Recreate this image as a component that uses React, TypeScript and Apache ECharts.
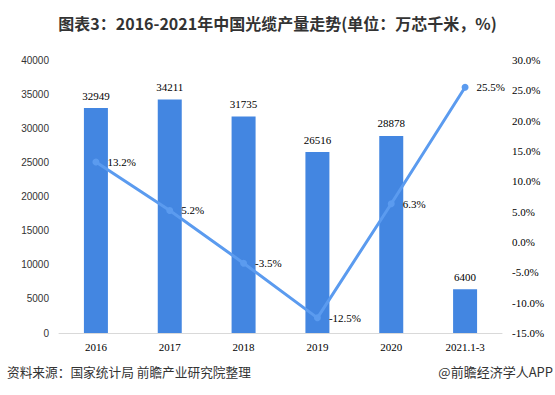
import React, { useEffect, useRef } from "react";
import * as echarts from "echarts";

const categories = ["2016", "2017", "2018", "2019", "2020", "2021.1-3"];
const production = [32949, 34211, 31735, 26516, 28878, 6400];
const growth = [13.2, 5.2, -3.5, -12.5, 6.3, 25.5];

export default function App() {
  const ref = useRef<HTMLDivElement>(null);
  useEffect(() => {
    if (!ref.current) return;
    const chart = echarts.init(ref.current, null, { renderer: "svg" });
    const serif = "Liberation Serif";
    chart.setOption({
      animation: false,
      backgroundColor: "#ffffff",
      title: {
        text: "图表3：2016-2021年中国光缆产量走势(单位：万芯千米，%)",
        left: "center",
        top: 10,
        textStyle: {
          fontFamily: "Noto Sans CJK SC",
          fontSize: 16,
          fontWeight: "bold",
          color: "#333333",
        },
      },
      graphic: [
        {
          type: "text",
          left: 7,
          top: 365,
          style: {
            text: "资料来源：国家统计局 前瞻产业研究院整理",
            fontFamily: "Noto Sans CJK SC",
            fontSize: 12.7,
            fill: "#333333",
          },
        },
        {
          type: "text",
          right: 2,
          top: 365,
          style: {
            text: "@前瞻经济学人APP",
            fontFamily: "Noto Sans CJK SC",
            fontSize: 13,
            fill: "#333333",
          },
        },
      ],
      grid: { left: 59, right: 53, top: 60, bottom: 62 },
      xAxis: {
        type: "category",
        data: categories,
        axisLine: { lineStyle: { color: "#d9d9d9" } },
        axisTick: { show: false },
        axisLabel: { color: "#000", fontFamily: serif, fontSize: 11, margin: 8 },
      },
      yAxis: [
        {
          type: "value",
          min: 0,
          max: 40000,
          interval: 5000,
          axisLine: { show: false },
          axisTick: { show: false },
          splitLine: { show: false },
          axisLabel: {
            color: "#333",
            fontFamily: "Liberation Sans",
            fontSize: 10,
            margin: 10,
            formatter: (v: number) => String(v),
          },
        },
        {
          type: "value",
          min: -15,
          max: 30,
          interval: 5,
          axisLine: { show: false },
          axisTick: { show: false },
          splitLine: { show: false },
          axisLabel: {
            color: "#000",
            fontFamily: serif,
            fontSize: 11,
            margin: 10,
            formatter: (v: number) => v.toFixed(1) + "%",
          },
        },
      ],
      series: [
        {
          type: "bar",
          data: production,
          barWidth: 24,
          itemStyle: { color: "#4386e1" },
          label: {
            show: true,
            position: "top",
            distance: 7,
            color: "#000",
            fontFamily: serif,
            fontSize: 11,
          },
        },
        {
          type: "line",
          yAxisIndex: 1,
          data: growth,
          symbol: "circle",
          symbolSize: 7,
          lineStyle: { color: "#5b9bef", width: 3 },
          itemStyle: { color: "#5b9bef" },
          label: {
            show: true,
            position: "right",
            distance: 8,
            color: "#000",
            fontFamily: serif,
            fontSize: 11,
            formatter: (p: any) => p.value.toFixed(1) + "%",
          },
        },
      ],
    });
    return () => chart.dispose();
  }, []);
  return <div ref={ref} style={{ width: 555, height: 395, position: "absolute", left: 0, top: 0 }} />;
}
